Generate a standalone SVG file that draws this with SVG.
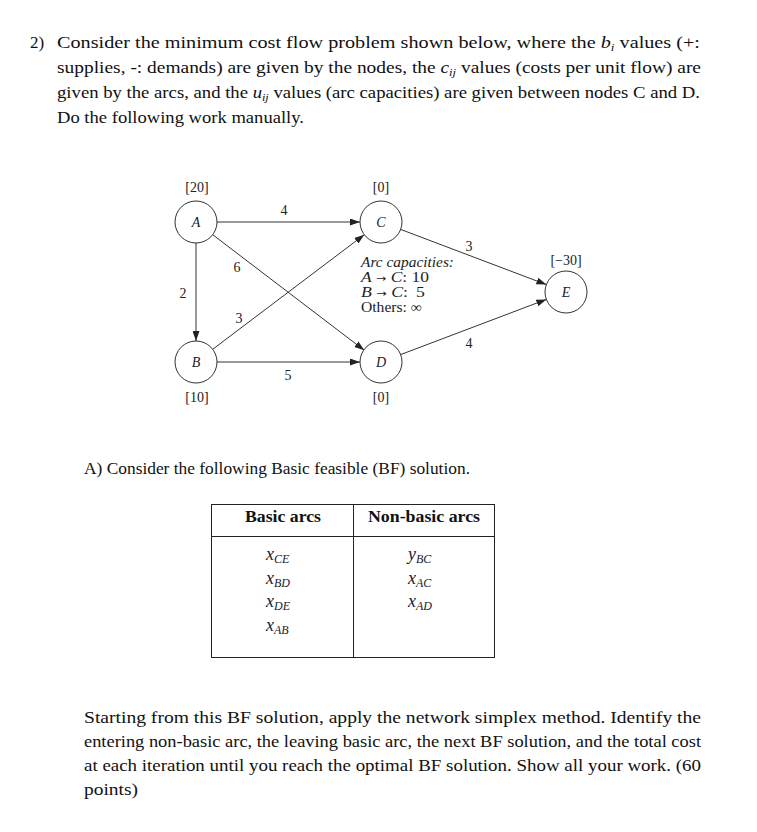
<svg xmlns="http://www.w3.org/2000/svg" width="757" height="832" viewBox="0 0 757 832">
<defs>
<style>
.p{font-family:"Liberation Serif",serif;font-size:17px;fill:#111}
.it{font-style:italic}
.sub{font-size:11px;font-style:italic}
.nl{font-family:"Liberation Serif",serif;font-size:14px;font-style:italic;fill:#222;text-anchor:middle}
.lb{font-family:"Liberation Serif",serif;font-size:14px;fill:#222;text-anchor:middle}
.cap{font-family:"Liberation Serif",serif;font-size:14.2px;fill:#222}
.arr{font-family:"DejaVu Sans",sans-serif;font-size:10px}
.node{fill:#fff;stroke:#333;stroke-width:1}
.edge{stroke:#333;stroke-width:1;fill:none;marker-end:url(#ah)}
.tb{fill:none;stroke:#222;stroke-width:1}
.th{font-family:"Liberation Serif",serif;font-size:16px;font-weight:bold;fill:#111;text-anchor:middle}
.mv{font-family:"Liberation Serif",serif;font-size:18px;font-style:italic;fill:#1a1a2e}
.ms{font-size:12px}
</style>
<marker id="ah" markerUnits="userSpaceOnUse" markerWidth="10" markerHeight="7" refX="10" refY="3.5" orient="auto">
<path d="M0,0 L10,3.5 L0,7 z" fill="#222"/>
</marker>
</defs>
<rect width="757" height="832" fill="#fff"/>

<g id="question">
<text class="p" x="30" y="48">2)</text>
<text class="p" x="57" y="48" textLength="643" lengthAdjust="spacingAndGlyphs">Consider the minimum cost flow problem shown below, where the <tspan class="it">b</tspan><tspan class="sub" dy="3">i</tspan><tspan dy="-3"> values (+:</tspan></text>
<text class="p" x="57" y="73" textLength="644" lengthAdjust="spacingAndGlyphs">supplies, -: demands) are given by the nodes, the <tspan class="it">c</tspan><tspan class="sub" dy="3">ij</tspan><tspan dy="-3"> values (costs per unit flow) are</tspan></text>
<text class="p" x="57" y="98" textLength="643" lengthAdjust="spacingAndGlyphs">given by the arcs, and the <tspan class="it">u</tspan><tspan class="sub" dy="3">ij</tspan><tspan dy="-3"> values (arc capacities) are given between nodes C and D.</tspan></text>
<text class="p" x="57" y="123" textLength="247" lengthAdjust="spacingAndGlyphs">Do the following work manually.</text>
</g>

<g id="connectors">
<line class="edge" x1="217" y1="222" x2="360" y2="222"/>
<line class="edge" x1="196" y1="243" x2="196" y2="341"/>
<line class="edge" x1="212.7" y1="234.7" x2="364.3" y2="350.3"/>
<line class="edge" x1="212.7" y1="349.3" x2="364.3" y2="234.7"/>
<line class="edge" x1="217" y1="362" x2="360" y2="362"/>
<line class="edge" x1="400.6" y1="229.4" x2="546.4" y2="284.6"/>
<line class="edge" x1="400.6" y1="354.6" x2="546.4" y2="299.4"/>
<text class="lb" x="284" y="215">4</text>
<text class="lb" x="237" y="272">6</text>
<text class="lb" x="183" y="298">2</text>
<text class="lb" x="239" y="323">3</text>
<text class="lb" x="288" y="380">5</text>
<text class="lb" x="469" y="251">3</text>
<text class="lb" x="469" y="348">4</text>
</g>

<g id="capacities">
<text class="cap" x="361" y="267" textLength="93" lengthAdjust="spacingAndGlyphs"><tspan font-style="italic">Arc capacities:</tspan></text>
<text class="cap" x="361" y="282" textLength="68" lengthAdjust="spacingAndGlyphs"><tspan font-style="italic">A</tspan> <tspan class="arr">→</tspan> <tspan font-style="italic">C</tspan>: 10</text>
<text class="cap" x="361" y="297" textLength="64" lengthAdjust="spacingAndGlyphs"><tspan font-style="italic">B</tspan> <tspan class="arr">→</tspan> <tspan font-style="italic">C</tspan>: <tspan dx="3">5</tspan></text>
<text class="cap" x="361" y="312" textLength="61" lengthAdjust="spacingAndGlyphs">Others: ∞</text>
</g>

<g id="node-A">
<circle class="node" cx="196" cy="222" r="21"/>
<text class="nl" x="196" y="227">A</text>
<text class="lb" x="197" y="192">[20]</text>
</g>
<g id="node-C">
<circle class="node" cx="381" cy="222" r="21"/>
<text class="nl" x="381" y="227">C</text>
<text class="lb" x="381" y="192">[0]</text>
</g>
<g id="node-B">
<circle class="node" cx="196" cy="362" r="21"/>
<text class="nl" x="196" y="367">B</text>
<text class="lb" x="197" y="402">[10]</text>
</g>
<g id="node-D">
<circle class="node" cx="381" cy="362" r="21"/>
<text class="nl" x="381" y="367">D</text>
<text class="lb" x="381" y="402">[0]</text>
</g>
<g id="node-E">
<circle class="node" cx="566" cy="292" r="21"/>
<text class="nl" x="566" y="297">E</text>
<text class="lb" x="566" y="265">[−30]</text>
</g>

<g id="partA">
<text class="p" x="84" y="474" textLength="386" lengthAdjust="spacingAndGlyphs">A) Consider the following Basic feasible (BF) solution.</text>
</g>

<g id="table">
<rect class="tb" x="211.5" y="504.5" width="283" height="153"/>
<line class="tb" x1="353.5" y1="504.5" x2="353.5" y2="657.5"/>
<line class="tb" x1="211.5" y1="536.5" x2="494.5" y2="536.5"/>
<text class="th" x="283" y="522" textLength="76" lengthAdjust="spacingAndGlyphs">Basic arcs</text>
<text class="th" x="424" y="522" textLength="112" lengthAdjust="spacingAndGlyphs">Non-basic arcs</text>
<text class="mv" x="266" y="560">x<tspan class="ms" dy="3">CE</tspan></text>
<text class="mv" x="266" y="584">x<tspan class="ms" dy="3">BD</tspan></text>
<text class="mv" x="266" y="607">x<tspan class="ms" dy="3">DE</tspan></text>
<text class="mv" x="266" y="631">x<tspan class="ms" dy="3">AB</tspan></text>
<text class="mv" x="408" y="560">y<tspan class="ms" dy="3">BC</tspan></text>
<text class="mv" x="408" y="584">x<tspan class="ms" dy="3">AC</tspan></text>
<text class="mv" x="408" y="607">x<tspan class="ms" dy="3">AD</tspan></text>
</g>

<g id="instructions">
<text class="p" x="84" y="723" textLength="617" lengthAdjust="spacingAndGlyphs">Starting from this BF solution, apply the network simplex method. Identify the</text>
<text class="p" x="84" y="747" textLength="617" lengthAdjust="spacingAndGlyphs">entering non-basic arc, the leaving basic arc, the next BF solution, and the total cost</text>
<text class="p" x="84" y="771" textLength="617" lengthAdjust="spacingAndGlyphs">at each iteration until you reach the optimal BF solution. Show all your work. (60</text>
<text class="p" x="84" y="795" textLength="54" lengthAdjust="spacingAndGlyphs">points)</text>
</g>
</svg>
